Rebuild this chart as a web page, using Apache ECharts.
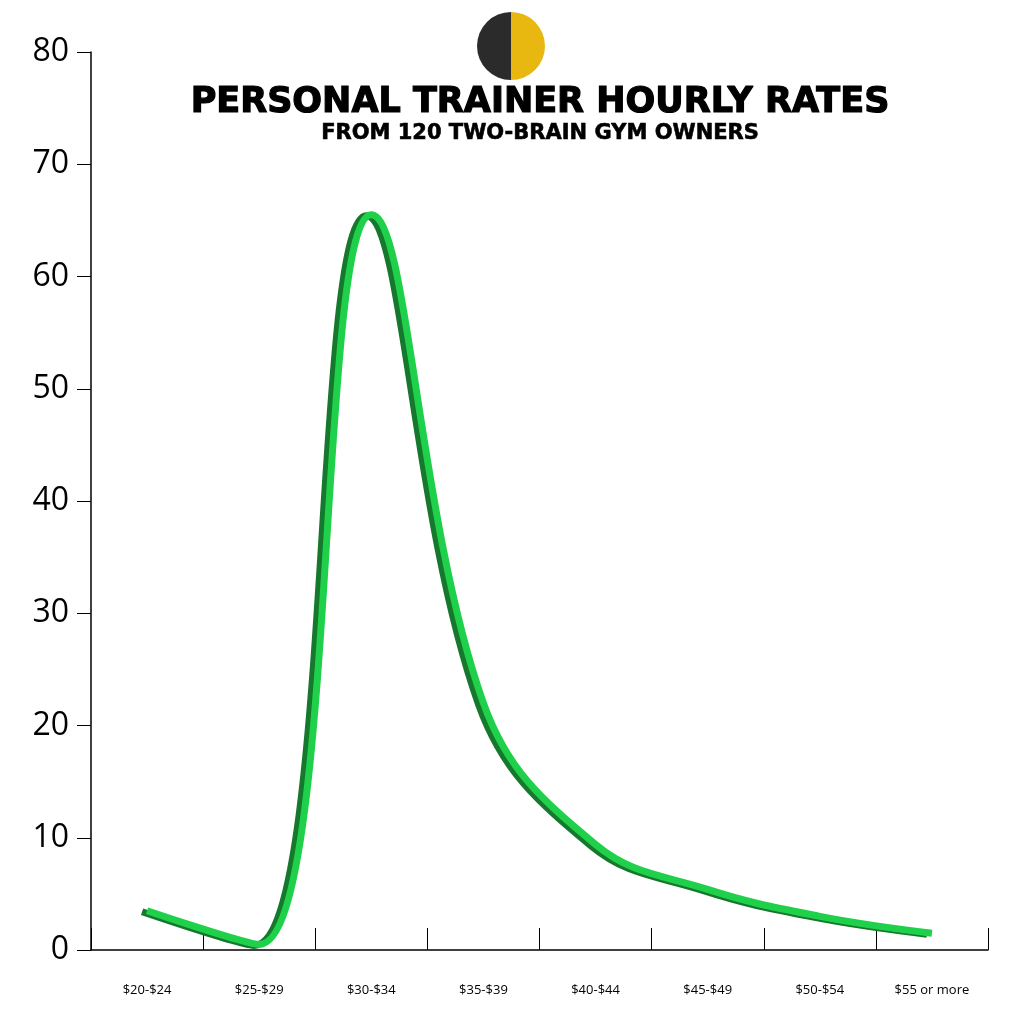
<!DOCTYPE html>
<html><head><meta charset="utf-8">
<script src="https://cdn.jsdelivr.net/npm/echarts@6/dist/echarts.min.js"></script>
<style>html,body{margin:0;background:#fff}#c{width:1024px;height:1024px}</style>
</head><body><div id="c"></div>
<script>
const categories = ['$20-$24','$25-$29','$30-$34','$35-$39','$40-$44','$45-$49','$50-$54','$55 or more'];
const values = [3.5, 0.5, 65.5, 22, 9.4, 5.4, 3, 1.5];
const yTicks = {min:0, max:80, interval:10};
const chart = echarts.init(document.getElementById('c'));
chart.setOption({
  backgroundColor:'#fff',
  animation:false,
  title:{text:'PERSONAL TRAINER HOURLY RATES', subtext:'FROM 120 TWO-BRAIN GYM OWNERS',
    left:535, top:80, textAlign:'center', itemGap:2,
    textStyle:{fontFamily:'DejaVu Sans', fontWeight:900, fontSize:35, color:'#000', textBorderColor:'#000', textBorderWidth:1.2},
    subtextStyle:{fontFamily:'DejaVu Sans', fontWeight:'bold', fontSize:21, color:'#000', textBorderColor:'#000', textBorderWidth:0.6}},
  graphic:[
    {type:'sector', shape:{cx:511,cy:46,r:34,startAngle:Math.PI/2,endAngle:Math.PI*1.5}, style:{fill:'#2b2b2b'}},
    {type:'sector', shape:{cx:511,cy:46,r:34,startAngle:-Math.PI/2,endAngle:Math.PI/2}, style:{fill:'#e8b810'}}
  ],
  grid:{left:91, right:36, top:52, bottom:74},
  xAxis:{type:'category', data:categories, boundaryGap:true,
    axisLine:{lineStyle:{color:'#000',width:1.5}},
    axisTick:{show:true, length:22, inside:true, lineStyle:{color:'#000'}},
    axisLabel:{color:'#000', fontSize:13, margin:34, fontFamily:'Open Sans'}},
  yAxis:{type:'value', min:yTicks.min, max:yTicks.max, interval:yTicks.interval, splitLine:{show:false},
    axisLine:{show:true, lineStyle:{color:'#000',width:1.5}},
    axisTick:{show:true, length:14, lineStyle:{color:'#000'}},
    axisLabel:{color:'#000', fontSize:32, margin:22, fontFamily:'Open Sans'}},
  series:[{type:'line', data:values, smooth:0.4, showSymbol:false,
    lineStyle:{color:'#1fd14a', width:7, shadowColor:'#16782c', shadowOffsetX:-5, shadowOffsetY:1, shadowBlur:0}}]
});
</script></body></html>
